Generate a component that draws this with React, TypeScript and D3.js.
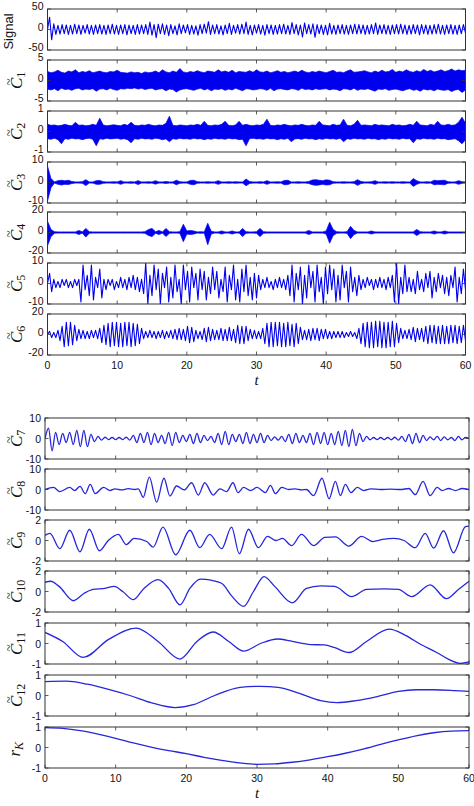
import React from "react";
import * as d3 from "d3";

// ---------------- data ----------------
const X_TICKS = [0, 10, 20, 30, 40, 50, 60];

// Signal: successive extrema, one every 0.3 s
const SIGNAL_DT = 0.3;
const SIGNAL = [
  0, 30, -25, 14, -12, 10, -11, 12, -10, 11, -12, 10, -11, 13, -10, 11, -12, 10, -9, 12,
  -11, 10, -12, 11, -10, 12, -11, 10, -12, 11, -10, 13, -11, 10, -12, 11, -10, 12, -13, 11,
  -10, 10, -12, 12, -11, 11, -10, 12, -12, 18, -14, 12, -20, 13, -10, 14, -12, 11, -15, 12,
  -10, 9, -13, 14, -10, 11, -8, 12, -12, 10, -11, 9, -14, 12, -10, 13, -9, 19, -12, 11,
  -10, 12, -11, 9, -13, 11, -10, 15, -12, 10, -9, 12, -11, 13, -10, 18, -12, 10, -13, 11,
  -9, 12, -11, 10, -14, 12, -10, 11, -12, 10, -11, 12, -10, 13, -11, 10, -12, 17, -10, 12,
  -13, 11, -18, 16, -10, 12, -11, 14, -19, 12, -10, 11, -12, 10, -13, 15, -11, 10, -12, 11,
  -10, 12, -11, 10, -12, 11, -10, 13, -11, 12, -10, 11, -12, 10, -11, 12, -10, 16, -12, 11,
  -10, 12, -11, 10, -12, 11, -10, 12, -11, 13, -10, 11, -12, 10, -11, 12, -10, 11, -13, 12,
  -10, 11, -12, 10, -11, 12, -10, 13, -11, 10, -12, 11, -10, 12, -11, 10, -12, 11, -10, 12,
  -8,
];

// C1..C4: upper / lower envelopes of the dense traces, one value every 0.5 s
const BAND_DT = 0.5;
const C1_UPPER = [
  2.2, 1.9, 2.1, 2.5, 2.0, 1.8, 2.3, 2.1, 2.6, 1.9, 2.2, 2.0, 2.4, 1.9, 2.1, 2.3, 2.0, 1.9, 2.2, 2.1,
  2.5, 2.0, 1.9, 1.8, 2.1, 1.9, 2.0, 1.7, 2.1, 1.9, 2.0, 2.3, 1.9, 2.6, 2.1, 1.9, 2.3, 2.0, 2.9, 2.1,
  1.9, 2.2, 2.0, 2.4, 2.1, 1.9, 2.3, 2.2, 2.0, 2.6, 2.1, 2.3, 2.0, 2.5, 1.9, 2.2, 2.1, 2.0, 2.4, 2.0,
  2.6, 2.1, 2.0, 2.3, 1.9, 2.1, 2.4, 2.0, 2.2, 1.9, 2.1, 2.3, 2.0, 2.5, 2.1, 1.9, 2.2, 2.0, 2.3, 2.1,
  1.9, 2.2, 2.5, 2.0, 2.1, 1.9, 2.3, 2.6, 2.0, 2.1, 2.2, 2.4, 2.1, 1.9, 2.3, 2.0, 2.5, 2.1, 2.2, 2.7,
  2.0, 2.3, 2.1, 2.6, 2.2, 2.0, 2.4, 2.1, 2.7, 2.2, 2.5, 2.1, 2.3, 2.6, 2.2, 2.4, 2.8, 2.3, 2.6, 2.4,
  2.5,
];
const C1_LOWER = [
  -2.1, -2.3, -2.0, -2.5, -1.9, -2.2, -2.1, -2.4, -2.0, -1.9, -2.3, -2.1, -2.2, -2.0, -2.6, -2.1, -2.0, -2.3, -1.9, -2.2,
  -2.4, -2.0, -2.1, -1.9, -2.0, -1.8, -2.1, -1.9, -2.2, -2.0, -1.9, -2.3, -2.1, -2.0, -2.5, -2.1, -2.2, -2.8, -2.3, -2.1,
  -2.0, -2.2, -2.4, -2.1, -1.9, -2.3, -2.0, -2.5, -2.1, -2.2, -2.0, -2.4, -2.1, -2.3, -1.9, -2.2, -2.5, -2.0, -2.1, -2.3,
  -2.2, -2.0, -2.1, -2.4, -1.9, -2.5, -2.1, -2.0, -2.2, -2.3, -2.0, -2.1, -2.4, -1.9, -2.2, -2.1, -2.3, -2.0, -2.2, -2.1,
  -2.0, -2.3, -2.1, -2.2, -2.5, -2.0, -2.1, -2.3, -1.9, -2.4, -2.1, -2.2, -2.0, -2.3, -2.6, -2.1, -2.2, -2.0, -2.4, -2.2,
  -2.1, -2.3, -2.5, -2.2, -2.0, -2.4, -2.2, -2.6, -2.1, -2.3, -2.2, -2.5, -2.1, -2.3, -2.4, -2.2, -2.7, -2.3, -2.2, -2.9,
  -2.3,
];
const C2_UPPER = [
  0.35, 0.3, 0.32, 0.28, 0.3, 0.35, 0.3, 0.28, 0.45, 0.3, 0.32, 0.28, 0.3, 0.35, 0.3, 0.65, 0.32, 0.28, 0.3, 0.33,
  0.3, 0.28, 0.35, 0.3, 0.45, 0.3, 0.28, 0.32, 0.3, 0.35, 0.3, 0.28, 0.32, 0.3, 0.4, 0.75, 0.3, 0.28, 0.32, 0.3,
  0.28, 0.32, 0.3, 0.35, 0.3, 0.5, 0.3, 0.28, 0.32, 0.3, 0.35, 0.5, 0.3, 0.28, 0.32, 0.5, 0.3, 0.35, 0.3, 0.28,
  0.32, 0.3, 0.35, 0.6, 0.3, 0.28, 0.32, 0.3, 0.35, 0.3, 0.28, 0.32, 0.3, 0.35, 0.3, 0.28, 0.32, 0.3, 0.5, 0.32,
  0.3, 0.28, 0.35, 0.3, 0.32, 0.6, 0.3, 0.28, 0.35, 0.55, 0.3, 0.32, 0.3, 0.28, 0.35, 0.3, 0.32, 0.3, 0.28, 0.35,
  0.3, 0.32, 0.28, 0.3, 0.35, 0.3, 0.5, 0.32, 0.3, 0.28, 0.35, 0.3, 0.5, 0.32, 0.3, 0.35, 0.3, 0.32, 0.45, 0.7,
  0.4,
];
const C2_LOWER = [
  -0.35, -0.38, -0.33, -0.4, -0.6, -0.35, -0.38, -0.33, -0.36, -0.35, -0.4, -0.35, -0.33, -0.38, -0.7, -0.35, -0.38, -0.33, -0.36, -0.35,
  -0.33, -0.38, -0.35, -0.4, -0.55, -0.35, -0.38, -0.33, -0.36, -0.35, -0.38, -0.33, -0.35, -0.4, -0.36, -0.5, -0.35, -0.38, -0.33, -0.36,
  -0.35, -0.38, -0.33, -0.36, -0.35, -0.4, -0.35, -0.38, -0.33, -0.36, -0.35, -0.38, -0.33, -0.36, -0.35, -0.4, -0.38, -0.7, -0.35, -0.33,
  -0.36, -0.35, -0.38, -0.33, -0.36, -0.35, -0.4, -0.35, -0.38, -0.33, -0.5, -0.36, -0.35, -0.38, -0.33, -0.36, -0.35, -0.4, -0.35, -0.38,
  -0.33, -0.36, -0.35, -0.38, -0.33, -0.5, -0.35, -0.38, -0.33, -0.36, -0.35, -0.38, -0.33, -0.36, -0.35, -0.4, -0.35, -0.38, -0.33, -0.36,
  -0.35, -0.38, -0.33, -0.36, -0.35, -0.55, -0.35, -0.38, -0.33, -0.36, -0.35, -0.38, -0.33, -0.36, -0.35, -0.4, -0.38, -0.35, -0.45, -0.6,
  -0.4,
];
const C3_UPPER = [
  8, 2, 0.3, 0.9, 1.1, 0.8, 1.1, 0.5, 0.3, 0.3, 0.4, 1.4, 0.3, 0.3, 0.9, 1.0, 0.4, 0.3, 0.3, 0.4,
  0.3, 0.9, 0.3, 0.3, 0.4, 0.3, 0.9, 0.3, 0.3, 0.4, 0.3, 0.9, 0.3, 0.3, 0.5, 0.3, 0.3, 1.1, 0.4, 0.3,
  0.3, 1.0, 1.1, 0.4, 0.3, 0.3, 0.4, 0.3, 0.3, 0.9, 0.3, 0.3, 0.4, 0.3, 0.4, 0.3, 0.3, 1.7, 0.5, 0.3,
  0.3, 0.4, 0.3, 0.9, 0.3, 0.3, 0.4, 0.3, 1.0, 1.1, 0.3, 0.3, 0.4, 0.3, 0.3, 0.5, 1.2, 1.4, 1.1, 0.9,
  1.3, 1.1, 0.4, 0.3, 0.3, 0.4, 0.3, 0.3, 0.4, 1.4, 0.5, 0.3, 0.3, 0.4, 0.9, 0.3, 0.3, 0.4, 0.3, 0.4,
  0.3, 0.3, 0.4, 0.3, 0.3, 1.9, 0.9, 0.3, 0.3, 0.4, 0.3, 1.1, 0.9, 1.0, 1.1, 0.4, 0.3, 0.3, 0.9, 0.4,
  0.3,
];
const C3_LOWER = [
  -9, -2.5, -0.3, -0.9, -1.2, -0.9, -1.0, -0.5, -0.3, -0.3, -0.4, -1.5, -0.3, -0.3, -0.9, -0.9, -0.4, -0.3, -0.3, -0.4,
  -0.3, -0.9, -0.3, -0.3, -0.4, -0.3, -1.0, -0.3, -0.3, -0.4, -0.3, -0.8, -0.3, -0.3, -0.5, -0.3, -0.3, -1.1, -0.4, -0.3,
  -0.3, -0.9, -1.1, -0.4, -0.3, -0.3, -0.4, -0.3, -0.3, -0.9, -0.3, -0.3, -0.4, -0.3, -0.4, -0.3, -0.3, -1.6, -0.5, -0.3,
  -0.3, -0.4, -0.3, -0.9, -0.3, -0.3, -0.4, -0.3, -1.1, -1.0, -0.3, -0.3, -0.4, -0.3, -0.3, -0.5, -1.1, -1.4, -1.2, -0.9,
  -1.2, -1.1, -0.4, -0.3, -0.3, -0.4, -0.3, -0.3, -0.4, -1.4, -0.5, -0.3, -0.3, -0.4, -0.9, -0.3, -0.3, -0.4, -0.3, -0.4,
  -0.3, -0.3, -0.4, -0.3, -0.3, -1.9, -0.9, -0.3, -0.3, -0.4, -0.3, -1.1, -0.9, -1.0, -1.1, -0.4, -0.3, -0.3, -0.9, -0.4,
  -0.3,
];
const C4_UPPER = [
  11, 3, 0.8, 0.6, 0.6, 0.6, 0.6, 0.6, 0.6, 2.0, 0.6, 4.0, 0.8, 0.6, 0.6, 0.6, 0.6, 0.6, 0.6, 0.6,
  0.6, 0.6, 0.6, 0.6, 0.6, 0.6, 0.6, 0.6, 0.8, 3.0, 4.0, 0.8, 2.0, 0.6, 4.0, 0.8, 0.6, 0.6, 0.8, 8.0,
  1.5, 2.0, 1.5, 0.6, 0.8, 0.6, 9.0, 1.2, 0.6, 0.6, 1.5, 0.6, 0.6, 1.5, 0.6, 0.6, 4.0, 0.8, 0.6, 0.6,
  0.8, 4.0, 0.8, 0.6, 0.6, 0.6, 0.6, 0.6, 0.6, 0.6, 0.6, 0.6, 0.6, 0.6, 0.6, 2.0, 0.6, 0.6, 0.6, 0.6,
  1.5, 10.0, 3.0, 0.8, 0.6, 0.6, 0.8, 6.0, 2.0, 0.6, 0.6, 0.6, 0.6, 1.5, 0.6, 0.6, 0.6, 0.6, 0.6, 0.6,
  0.6, 0.6, 0.6, 0.6, 0.6, 0.6, 3.0, 0.8, 0.6, 0.6, 0.6, 1.5, 0.6, 0.6, 1.5, 0.6, 0.6, 0.6, 0.6, 0.6,
  0.6,
];
const C4_LOWER = [
  -13, -4, -0.8, -0.6, -0.6, -0.6, -0.6, -0.6, -0.6, -2.0, -0.6, -4.5, -0.8, -0.6, -0.6, -0.6, -0.6, -0.6, -0.6, -0.6,
  -0.6, -0.6, -0.6, -0.6, -0.6, -0.6, -0.6, -0.6, -0.8, -3.0, -4.0, -0.8, -2.0, -0.6, -4.0, -0.8, -0.6, -0.6, -0.8, -9.0,
  -1.5, -2.0, -1.5, -0.6, -0.8, -0.6, -12.0, -1.5, -0.6, -0.6, -1.5, -0.6, -0.6, -1.5, -0.6, -0.6, -4.0, -0.8, -0.6, -0.6,
  -0.8, -4.0, -0.8, -0.6, -0.6, -0.6, -0.6, -0.6, -0.6, -0.6, -0.6, -0.6, -0.6, -0.6, -0.6, -2.0, -0.6, -0.6, -0.6, -0.6,
  -1.5, -10.5, -3.0, -0.8, -0.6, -0.6, -0.8, -6.0, -2.0, -0.6, -0.6, -0.6, -0.6, -1.5, -0.6, -0.6, -0.6, -0.6, -0.6, -0.6,
  -0.6, -0.6, -0.6, -0.6, -0.6, -0.6, -3.0, -0.8, -0.6, -0.6, -0.6, -1.5, -0.6, -0.6, -1.5, -0.6, -0.6, -0.6, -0.6, -0.6,
  -0.6,
];

// C5, C6: successive extrema, one every 0.3 s
const OSC_DT = 0.3;
const C5 = [
  0, 5, -4, 2, -2, 1, -2, 2, -1, 2, -2, 1, -2, 2, -1, 2, -9, 9, -3, 4,
  -6, 9, -8, 3, -2, 7, -7, 2, -3, 2, -1, 2, -3, 1, -2, 3, -2, 2, -3, 3,
  -2, 4, -3, 3, -4, 2, -5, 10, -10, 4, -6, 9, -3, 7, -10, 5, -2, 8, -9, 3,
  -7, 9, -4, 2, -10, 9, -3, 6, -9, 8, -2, 5, -8, 7, -3, 6, -8, 3, -5, 8,
  -3, 6, -7, 2, -4, 8, -9, 4, -3, 9, -8, 2, -9, 7, -4, 9, -6, 3, -8, 5,
  -7, 4, -3, 2, -2, 3, -2, 1, -3, 2, -2, 3, -2, 2, -3, 4, -6, 9, -9, 5,
  -3, 8, -10, 4, -7, 9, -2, 6, -9, 9, -4, 3, -10, 8, -5, 9, -3, 7, -9, 4,
  -8, 9, -2, 6, -9, 8, -4, 3, -6, 4, -3, 2, -2, 3, -1, 2, -3, 2, -2, 3,
  -2, 2, -3, 3, -2, 4, -9, 10, -10, 3, -5, 9, -4, 3, -4, 2, -5, 6, -3, 2,
  -4, 5, -2, 6, -7, 3, -4, 5, -2, 4, -5, 3, -6, 4, -2, 8, -9, 3, -5, 7,
  -3,
];
const C6 = [
  0, 3, -3, 2, -3, 4, -6, 8, -12, 12, -11, 12, -10, 9, -6, 5, -4, 4, -4, 3,
  -4, 4, -3, 4, -4, 6, -8, 9, -10, 11, -12, 12, -11, 12, -12, 11, -12, 12, -11, 12,
  -12, 11, -11, 10, -9, 6, -4, 3, -3, 4, -3, 3, -4, 3, -3, 4, -4, 3, -3, 4,
  -4, 5, -5, 6, -5, 5, -6, 8, -8, 7, -7, 4, -4, 3, -5, 6, -7, 7, -6, 5,
  -5, 4, -5, 6, -6, 5, -6, 7, -6, 5, -8, 9, -9, 8, -9, 8, -6, 5, -4, 4,
  -4, 3, -4, 6, -9, 11, -12, 12, -12, 12, -11, 12, -12, 11, -12, 12, -11, 10, -12, 11,
  -9, 7, -5, 4, -5, 5, -6, 6, -5, 6, -6, 5, -4, 5, -4, 3, -4, 3, -3, 3,
  -3, 3, -3, 2, -2, 3, -2, 2, -4, 6, -9, 11, -12, 12, -13, 12, -13, 13, -12, 13,
  -13, 12, -13, 12, -12, 13, -12, 11, -8, 6, -4, 4, -4, 5, -5, 7, -7, 6, -5, 6,
  -7, 8, -9, 9, -8, 9, -9, 8, -9, 9, -9, 8, -9, 9, -8, 9, -9, 8, -8, 9,
  -6,
];

// C7: successive extrema, one every 0.5 s
const C7_DT = 0.5;
const C7 = [
  0, 5, -6, 3, -3, 2.5, -2, 3, -3, 4, -4, 4, -4, 2, -1.5, 1, -0.8, 0.6, -0.5, 0.5,
  -0.5, 0.5, -0.5, 0.6, -0.8, 1.5, -2, 2.5, -2, 3, -3, 2.5, -2, 1.5, -2.5, 3, -3.5, 3, -2, 1.5,
  -1.5, 2, -2.5, 2.5, -2, 1.5, -1, 1, -2, 2.5, -3, 3.5, -3, 2, -1.5, 2, -2.5, 3, -2.5, 2,
  -2, 2.5, -2, 1.5, -1, 0.8, -0.8, 1, -1.5, 2, -2.5, 2.5, -2, 1.5, -2, 2.5, -3, 3, -2.5, 3,
  -3, 2.5, -3, 3.5, -3.5, 4, -4, 4.5, -3.5, 2.5, -1.5, 1, -0.6, 0.5, -0.5, 0.5, -0.5, 0.5, -0.6, 0.6,
  -0.8, 1, -1.5, 2, -2.5, 2.5, -2, 1.5, -1, 0.8, -0.6, 1, -1, 0.8, -0.6, 0.5, -1, 1, -0.6, 0.5,
  0,
];

// C8..rK: turning points (time, value)
const C8_T = [0, 1.2, 2.1, 3.5, 4.2, 4.95, 5.7, 6.4, 7.1, 8.3, 9.2, 9.9, 10.8, 11.8, 12.7, 13.2, 13.9, 14.76, 15.8, 16.83, 17.68, 18.62, 19.7, 20.75, 21.7, 22.6, 23.8, 24.75, 25.7, 26.6, 27.3, 28.1, 29.1, 30, 31.2, 31.9, 32.6, 33.5, 34.5, 35.4, 36.3, 37, 38, 39.2, 40.2, 41.1, 41.8, 42.5, 43.3, 44.2, 45.1, 46.1, 47.5, 48.9, 50.3, 51.5, 52.4, 53.5, 54.5, 55.5, 56.2, 57.1, 58.1, 59, 60];
const C8_V = [0, 1, -1, 1, -0.5, 1.5, -2, 2.5, -2, 1, -0.5, 0.3, -0.2, 0.4, 0, 0.3, -3.8, 6, -6.2, 5.5, -3.2, 1.7, -0.2, 3.3, -2.7, 3.3, -2.7, 0.3, -1, 3.3, -1.5, 1, -0.5, 1, -1.5, 2, -2, 1, 0, 0.3, -0.2, 0, -3, 5.5, -4.5, 4, -3, 2.5, -1.5, 1, -0.5, 0.3, 0, 0.2, 0, 0.5, -2.5, 4, -3, 1, -0.5, 0.5, -0.5, 0.5, 0];
const C9_T = [0, 0.7, 2.1, 3.5, 4.95, 6.27, 7.7, 8.95, 10.37, 11.5, 12.6, 14.4, 15.3, 16.7, 18.5, 20.5, 21.9, 23.3, 25, 26.4, 27.5, 28.8, 30.2, 31.5, 32.7, 33.6, 34.9, 36.3, 38, 39.6, 41.1, 43, 44.8, 46.4, 47.8, 49.4, 50.8, 52.4, 53.8, 55, 56.4, 57.8, 59.5, 60];
const C9_V = [0.5, 0.7, -0.8, 1.0, -1.1, 1.1, -1.0, 0, 0.6, -0.4, 0.2, -0.1, -0.65, 1.3, -1.4, 1.0, -0.7, 0.6, -0.8, 1.3, -1.3, 1.1, -0.7, 0.4, 0, 0.2, -0.5, 0.6, -0.5, 0.3, 0.35, -0.55, 0.4, -0.1, 0.1, 0.2, 0, -0.7, 0.7, -0.75, 0.95, -1.2, 1.35, 1.4];
const C10_T = [0, 0.8, 2.0, 4.0, 5.5, 6.8, 8.5, 9.8, 11, 12.5, 14, 16, 17.5, 19.1, 20.5, 22, 23.5, 25, 26.5, 28.1, 29.5, 31, 32.5, 35, 37, 39, 41, 43.4, 45.5, 48, 50, 51.9, 54.5, 56.8, 58.5, 60];
const C10_V = [0.9, 1.0, 0.5, -0.9, -0.2, 0.2, 0.3, 0.5, 0, -0.8, 0.3, 1.15, 0.3, -1.3, 0.3, 1.2, 1.1, 0.8, -0.5, -1.45, 0, 1.45, 0.5, -1.1, 0.3, 0.55, 0.5, -0.5, 0.2, 0.25, 0.2, -0.5, 0.65, -0.7, 0.2, 1.0];
const C11_T = [0, 2.5, 5.4, 9, 12.9, 16, 19.1, 21.5, 23.8, 26, 28.1, 30.5, 32.9, 35, 37.6, 39.5, 41, 43, 45.5, 48.7, 51, 53.2, 55.5, 57, 58.8, 60];
const C11_V = [0.54, 0.1, -0.68, 0.2, 0.75, 0.1, -0.76, 0.1, 0.56, 0.1, -0.37, 0, 0.22, 0.1, -0.05, -0.07, -0.2, -0.44, 0.1, 0.7, 0.4, -0.05, -0.45, -0.75, -0.97, -0.9];
const C12_T = [0, 3, 6, 9, 12, 15, 18.4, 21, 24, 27.6, 30.5, 33, 36, 39, 41.3, 44, 47, 50, 52.5, 55, 58, 60];
const C12_V = [0.68, 0.7, 0.55, 0.3, 0.0, -0.35, -0.59, -0.45, 0, 0.4, 0.45, 0.4, 0.1, -0.25, -0.35, -0.25, -0.05, 0.2, 0.28, 0.28, 0.24, 0.2];
const RK_T = [0, 2.5, 5, 7.5, 10, 12.5, 15, 17.5, 20, 22.5, 25, 27.5, 30, 32.5, 35, 37.5, 40, 42.5, 45, 47.5, 50, 52.5, 55, 57.5, 60];
const RK_V = [0.97, 0.93, 0.82, 0.65, 0.45, 0.22, 0.02, -0.15, -0.3, -0.48, -0.63, -0.75, -0.82, -0.8, -0.72, -0.6, -0.45, -0.28, -0.08, 0.15, 0.37, 0.57, 0.72, 0.8, 0.82];

// ---------------- drawing ----------------
type Series =
  | { kind: "zig"; dt: number; v: number[]; curve?: boolean }
  | { kind: "band"; dt: number; hi: number[]; lo: number[] }
  | { kind: "pts"; t: number[]; v: number[] };

type Label = { kind: "text"; text: string } | { kind: "ctilde"; sub: string } | { kind: "rk" };

interface PanelDef {
  label: Label;
  ymax: number;
  series: Series;
}

const TOP: PanelDef[] = [
  { label: { kind: "text", text: "Signal" }, ymax: 50, series: { kind: "zig", dt: SIGNAL_DT, v: SIGNAL } },
  { label: { kind: "ctilde", sub: "1" }, ymax: 5, series: { kind: "band", dt: BAND_DT, hi: C1_UPPER, lo: C1_LOWER } },
  { label: { kind: "ctilde", sub: "2" }, ymax: 1, series: { kind: "band", dt: BAND_DT, hi: C2_UPPER, lo: C2_LOWER } },
  { label: { kind: "ctilde", sub: "3" }, ymax: 10, series: { kind: "band", dt: BAND_DT, hi: C3_UPPER, lo: C3_LOWER } },
  { label: { kind: "ctilde", sub: "4" }, ymax: 20, series: { kind: "band", dt: BAND_DT, hi: C4_UPPER, lo: C4_LOWER } },
  { label: { kind: "ctilde", sub: "5" }, ymax: 10, series: { kind: "zig", dt: OSC_DT, v: C5 } },
  { label: { kind: "ctilde", sub: "6" }, ymax: 20, series: { kind: "zig", dt: OSC_DT, v: C6 } },
];
const BOTTOM: PanelDef[] = [
  { label: { kind: "ctilde", sub: "7" }, ymax: 10, series: { kind: "zig", dt: C7_DT, v: C7, curve: true } },
  { label: { kind: "ctilde", sub: "8" }, ymax: 10, series: { kind: "pts", t: C8_T, v: C8_V } },
  { label: { kind: "ctilde", sub: "9" }, ymax: 2, series: { kind: "pts", t: C9_T, v: C9_V } },
  { label: { kind: "ctilde", sub: "10" }, ymax: 2, series: { kind: "pts", t: C10_T, v: C10_V } },
  { label: { kind: "ctilde", sub: "11" }, ymax: 1, series: { kind: "pts", t: C11_T, v: C11_V } },
  { label: { kind: "ctilde", sub: "12" }, ymax: 1, series: { kind: "pts", t: C12_T, v: C12_V } },
  { label: { kind: "rk" }, ymax: 1, series: { kind: "pts", t: RK_T, v: RK_V } },
];

const SANS = "Arial, 'Liberation Sans', Helvetica, sans-serif";
const SERIF = "'Times New Roman', 'Liberation Serif', 'DejaVu Serif', serif";
const PANEL_H = 41;
const TICK = 3.5;

function YLabel({ label, cy }: { label: Label; cy: number }) {
  if (label.kind === "text") {
    return (
      <text transform={`translate(13, ${cy + 2}) rotate(-90)`} textAnchor="middle" fontFamily={SANS} fontSize={13} fill="#111">
        {label.text}
      </text>
    );
  }
  if (label.kind === "rk") {
    return (
      <g transform={`translate(20, ${cy}) rotate(-90)`}>
        <text x={-9} y={0} fontFamily={SERIF} fontStyle="italic" fontSize={17} fill="#111">
          r
          <tspan fontSize={12} dy={3}>K</tspan>
        </text>
      </g>
    );
  }
  const subW = label.sub.length * 6;
  const start = -(11 + subW) / 2;
  return (
    <g transform={`translate(21.5, ${cy}) rotate(-90)`}>
      <text x={start} y={0} fontFamily={SERIF} fontStyle="italic" fontSize={17} fill="#111">
        C
        <tspan fontStyle="normal" fontSize={12} dy={3}>{label.sub}</tspan>
      </text>
      <text x={start + 7} y={-8.5} textAnchor="middle" fontFamily={SERIF} fontSize={13} fill="#111">~</text>
    </g>
  );
}

function Group({ defs, tops, x, color, width, labelDy, gid }: {
  defs: PanelDef[]; tops: number[]; x: d3.ScaleLinear<number, number>; color: string; width: number; labelDy: number; gid: string;
}) {
  const [x0, x1] = x.range();
  const last = defs.length - 1;
  return (
    <g>
      {defs.map((d, i) => {
        const top = tops[i];
        const y = d3.scaleLinear().domain([-d.ymax, d.ymax]).range([top + PANEL_H, top]);
        const yTicks = [d.ymax, 0, -d.ymax];
        const clipId = `${gid}-clip-${i}`;
        const s = d.series;
        let path: React.ReactNode = null;
        if (s.kind === "zig") {
          const gen = d3.line<number>().x((_, k) => x(k * s.dt)).y((v) => y(v));
          if (s.curve) gen.curve(d3.curveMonotoneX);
          path = <path d={gen(s.v) ?? ""} fill="none" stroke={color} strokeWidth={width} strokeLinejoin="round" />;
        } else if (s.kind === "band") {
          const gen = d3.area<number>().x((_, k) => x(k * s.dt)).y0((_, k) => y(s.lo[k])).y1((v) => y(v));
          path = <path d={gen(s.hi) ?? ""} fill={color} stroke={color} strokeWidth={0.7} strokeLinejoin="round" />;
        } else {
          const pts = s.t.map((t, k) => [t, s.v[k]] as [number, number]);
          const gen = d3.line<[number, number]>().x((p) => x(p[0])).y((p) => y(p[1])).curve(d3.curveMonotoneX);
          path = <path d={gen(pts) ?? ""} fill="none" stroke={color} strokeWidth={width} />;
        }
        return (
          <g key={i}>
            <defs>
              <clipPath id={clipId}>
                <rect x={x0} y={top} width={x1 - x0} height={PANEL_H} />
              </clipPath>
            </defs>
            <rect x={x0} y={top} width={x1 - x0} height={PANEL_H} fill="#fff" />
            <g clipPath={`url(#${clipId})`}>{path}</g>
            {X_TICKS.map((t) => (
              <g key={t} stroke="#333" strokeWidth={0.8}>
                <line x1={x(t)} x2={x(t)} y1={top} y2={top + TICK} />
                <line x1={x(t)} x2={x(t)} y1={top + PANEL_H} y2={top + PANEL_H - TICK} />
              </g>
            ))}
            {yTicks.map((v) => (
              <g key={v} stroke="#333" strokeWidth={0.8}>
                <line x1={x0} x2={x0 + TICK} y1={y(v)} y2={y(v)} />
                <line x1={x1} x2={x1 - TICK} y1={y(v)} y2={y(v)} />
              </g>
            ))}
            <rect x={x0} y={top} width={x1 - x0} height={PANEL_H} fill="none" stroke="#333" strokeWidth={1} />
            {yTicks.map((v) => (
              <text key={v} x={x0 - 4} y={y(v) + labelDy} textAnchor="end" dominantBaseline="central" fontFamily={SANS} fontSize={10.5} fill="#111">
                {String(v)}
              </text>
            ))}
            <YLabel label={d.label} cy={top + PANEL_H / 2} />
            {i === last &&
              X_TICKS.map((t) => (
                <text key={t} x={x(t)} y={top + PANEL_H + 10} textAnchor="middle" dominantBaseline="central" fontFamily={SANS} fontSize={10.5} fill="#111">
                  {String(t)}
                </text>
              ))}
            {i === last && (
              <text x={x(30)} y={top + PANEL_H + 30} textAnchor="middle" fontFamily={SERIF} fontStyle="italic" fontSize={15} fill="#111">
                t
              </text>
            )}
          </g>
        );
      })}
    </g>
  );
}

export default function App() {
  const xTop = d3.scaleLinear().domain([0, 60]).range([47.5, 465.5]);
  const xBot = d3.scaleLinear().domain([0, 60]).range([45, 469]);
  const topTops = [9, 60, 111, 162, 212, 263, 314];
  const botTops = [418, 469, 520, 571, 623, 675, 727];
  return (
    <svg width={474} height={806} viewBox="0 0 474 806" style={{ position: "absolute", left: 0, top: 0, background: "#fff" }}>
      <rect x={0} y={0} width={474} height={806} fill="#fff" />
      <Group defs={TOP} tops={topTops} x={xTop} color="#0000ee" width={1.1} labelDy={-3} gid="top" />
      <Group defs={BOTTOM} tops={botTops} x={xBot} color="#2626dd" width={1.3} labelDy={0} gid="bot" />
    </svg>
  );
}
